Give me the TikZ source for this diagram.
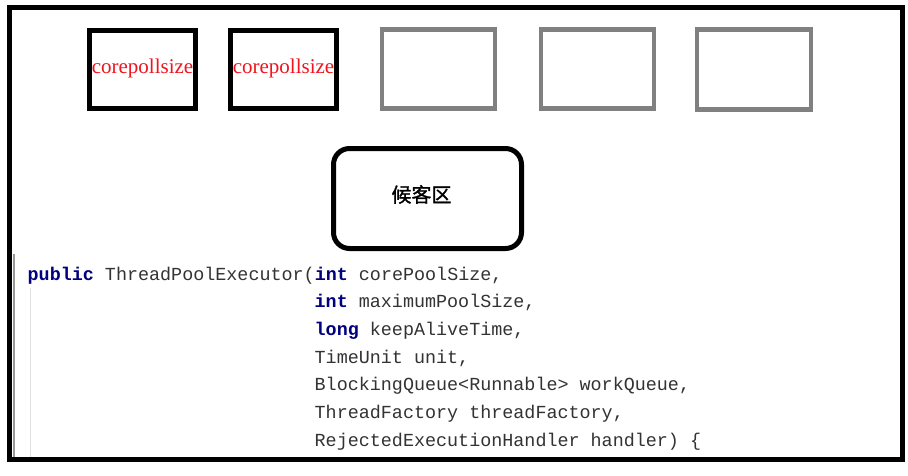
\documentclass[tikz,border=0pt]{standalone}
\usepackage{fontspec}
\setmainfont{Liberation Serif}
\setmonofont{Liberation Mono}
\newfontfamily\cjk{Noto Sans CJK SC}[FakeBold=1.2]
\definecolor{kw}{RGB}{0,0,128}
\definecolor{boxgrey}{RGB}{128,128,128}
\definecolor{redtxt}{RGB}{240,20,30}
\tikzset{
  blackbox/.style={draw=black,line width=4.7pt},
  greybox/.style={draw=boxgrey,line width=4.5pt},
  codeline/.style={anchor=base west,inner sep=0pt,font=\fontsize{18.4}{20}\ttfamily,text=black!80},
  redlabel/.style={text=redtxt,font=\fontsize{21}{22}\selectfont,inner sep=0pt}
}
\newcommand{\kwd}[1]{\textcolor{kw}{\bfseries #1}}
\begin{document}
\begin{tikzpicture}[x=1pt,y=-1pt]
\useasboundingbox (0,0) rectangle (908,475);
\fill[white] (0,0) rectangle (908,475);
% outer frame
\draw[line width=5pt] (9.5,7.5) rectangle (902.5,459.5);
% top boxes
\draw[blackbox] (89.5,30.5) rectangle (195.5,108.5);
\draw[blackbox] (230.5,30.5) rectangle (336.5,108.5);
\draw[greybox] (382.2,29.5) rectangle (494.8,108.5);
\draw[greybox] (541.2,29.5) rectangle (653.8,108.5);
\draw[greybox] (697.2,29.5) rectangle (810.8,109.5);
\node[redlabel] (c1) at (142.5,68.5) {corepollsize};
\node[redlabel] (c2) at (283.5,68.5) {corepollsize};
% waiting area
\draw[line width=5pt,rounded corners=16pt] (333.5,148.5) rectangle (521.5,248.5);
\node[font=\cjk\fontsize{20}{22}\selectfont,inner sep=0pt] (wait) at (421.5,194.5) {候客区};
% code panel bars
\draw[line width=2.5pt,draw=gray!80] (14,254) -- (14,457);
\draw[line width=1pt,draw=gray!25] (30.5,288) -- (30.5,457);
% code
\node[codeline] (l1) at (27.5,280) {\kwd{public} ThreadPoolExecutor(\kwd{int} corePoolSize,};
\node[codeline] (l2) at (314.5,307.7) {\kwd{int} maximumPoolSize,};
\node[codeline] (l3) at (314.5,335.3) {\kwd{long} keepAliveTime,};
\node[codeline] (l4) at (314.5,363) {TimeUnit unit,};
\node[codeline] (l5) at (314.5,390.7) {BlockingQueue<Runnable> workQueue,};
\node[codeline] (l6) at (314.5,418.3) {ThreadFactory threadFactory,};
\node[codeline] (l7) at (314.5,446) {RejectedExecutionHandler handler) \{};
\end{tikzpicture}
\end{document}
